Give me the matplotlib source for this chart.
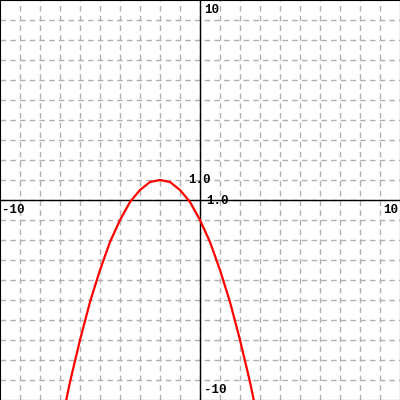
import numpy as np
import matplotlib.pyplot as plt

# points
curve_x = [-7, -6.5, -6, -5.5, -5, -4.5, -4, -3.5, -3, -2.5, -2, -1.5, -1, -0.5, 0, 0.5, 1, 1.5, 2, 2.5, 3]
curve_y = [-11.5, -9.1, -7, -5.1, -3.5, -2.1, -1, -0.1, 0.5, 0.9, 1, 0.9, 0.5, -0.1, -1, -2.1, -3.5, -5.1, -7, -9.1, -11.5]
x_range = (-10, 10)
y_range = (-10, 10)

fig = plt.figure(figsize=(4, 4), dpi=100)
ax = fig.add_axes([0, 0, 1, 1])
ax.set_xlim(*x_range)
ax.set_ylim(*y_range)

for v in range(-9, 10):
    ax.axvline(v, color='#b0b0b0', lw=1, ls=(0, (4, 3)), zorder=0)
    ax.axhline(v, color='#b0b0b0', lw=1, ls=(0, (4, 3)), zorder=0)
ax.axvline(0, color='black', lw=1, zorder=1)
ax.axhline(0, color='black', lw=1, zorder=1)

ax.plot(curve_x, curve_y, color='red', lw=1.6, zorder=2)

ax.set_xticks([])
ax.set_yticks([])
for s in ax.spines.values():
    s.set_color('black')

font = dict(family='Liberation Mono', fontsize=9, fontweight='bold')
ax.text(0.2, 9.8, '10', va='top', ha='left', **font)
ax.text(0.2, -9.8, '-10', va='bottom', ha='left', **font)
ax.text(-9.9, -0.2, '-10', va='top', ha='left', **font)
ax.text(9.9, -0.2, '10', va='top', ha='right', **font)
ax.text(-0.6, 1, '1.0', va='center', ha='left', **font)
ax.text(0.3, -0.05, '1.0', va='center', ha='left', **font)

fig.savefig('out.png', dpi=100)
